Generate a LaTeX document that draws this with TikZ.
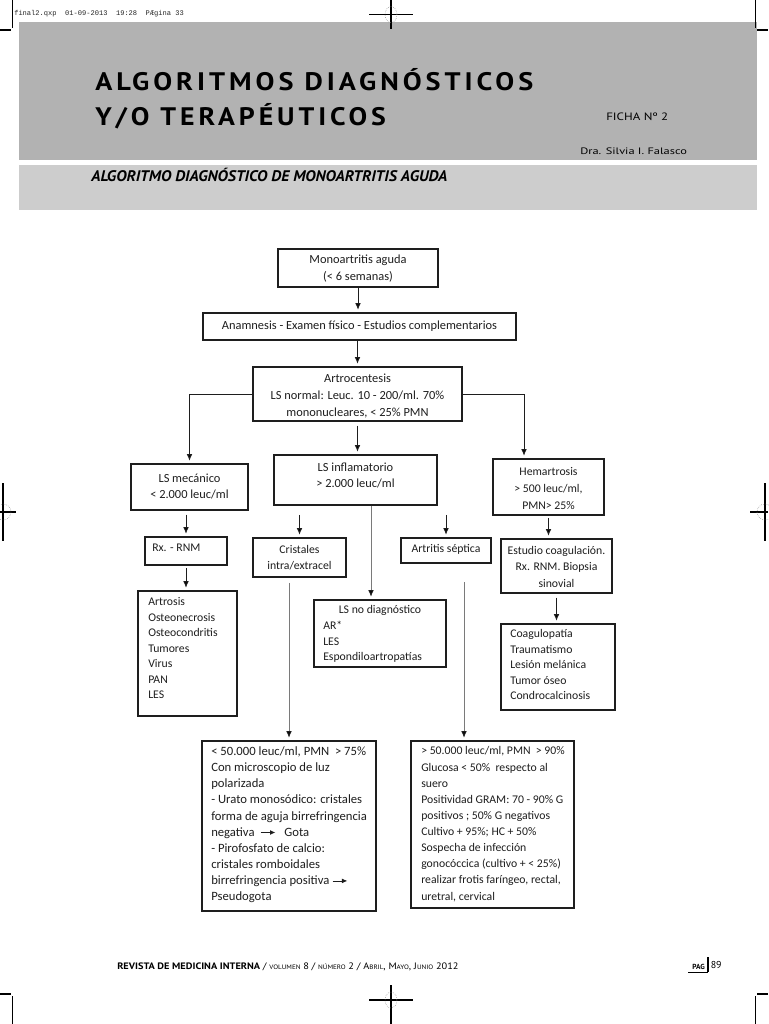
\documentclass[tikz,border=0pt]{standalone}
\usepackage{fontspec}
\usepackage{graphicx}
\setmainfont{Carlito}
\newfontfamily\ptsans{PT Sans}
\newfontfamily\ptsansls[LetterSpace=14]{PT Sans}
\newfontfamily\monof{Liberation Mono}
\usetikzlibrary{arrows.meta,fit}
\newcommand\fw[2]{\resizebox{#1}{\height}{#2}}
\newcommand\inarr{\tikz[baseline=-2.8pt]\draw[line width=0.6pt,-{Latex[length=4pt,width=3.6pt]}] (0,0)--(11pt,0);}
\definecolor{bandA}{HTML}{B2B2B2}
\definecolor{bandB}{HTML}{CDCDCD}
\definecolor{ink}{HTML}{1E1E1E}
\definecolor{glin}{HTML}{7A7A7A}
\begin{document}
\begin{tikzpicture}[x=0.75pt,y=-0.75pt,
  box/.style={draw=ink,line width=0.8pt,inner sep=0pt},
  txt/.style={font=\fontsize{9.3}{12.4}\selectfont,inner sep=0pt,align=center,text=ink},
  stxt/.style={font=\fontsize{8.8}{12.4}\selectfont,inner sep=0pt,align=center,text=ink},
  ltxt/.style={font=\fontsize{8.8}{11.6}\selectfont,inner sep=0pt,align=left,anchor=north west,text=ink},
  btxt/.style={font=\fontsize{9.5}{12.1}\selectfont,inner sep=0pt,align=left,anchor=north west,text=ink},
  bstxt/.style={font=\fontsize{8.8}{12.1}\selectfont,inner sep=0pt,align=left,anchor=north west,text=ink},
  arr/.style={draw=ink,line width=0.7pt,-{Latex[length=5pt,width=4.2pt]},shorten >=2pt},
  garr/.style={draw=glin,line width=0.7pt,-{Latex[length=5pt,width=4.2pt,color=ink]},shorten >=2pt},
  crop/.style={draw=black,line width=0.8pt},
  cring/.style={draw=gray,line width=0.4pt,densely dotted}
]
\useasboundingbox (0,0) rectangle (768,1024);
\fill[white] (0,0) rectangle (768,1024);

% header bands
\fill[bandA] (19,22) rectangle (757,160);
\fill[bandB] (19,165) rectangle (757,210);

% top line text
\node[anchor=base west,inner sep=0pt,font=\monof\fontsize{5.3}{6}\selectfont,text=black!85] (slug) at (14,15.5) {final2.qxp~~01-09-2013~~19:28~~PÆgina~33};

% crop marks
\draw[crop] (12.5,0) -- (12.5,28);
\draw[crop] (0,30) -- (11,30);
\draw[crop] (755.5,0) -- (755.5,28);
\draw[crop] (757,30) -- (768,30);
\draw[crop] (391,0) -- (391,29);
\draw[crop] (369,14.5) -- (413,14.5);
\draw[cring] (391,14.5) ellipse (6 and 8);
\draw[crop] (3,483) -- (3,541);
\draw[crop] (0,512) -- (16,512);
\draw[cring] (3,512) circle (8);
\draw[crop] (765,483) -- (765,541);
\draw[crop] (750,512) -- (768,512);
\draw[cring] (765,512) circle (8);
\draw[crop] (391,985) -- (391,1024);
\draw[crop] (369,1000) -- (413,1000);
\draw[cring] (391,1000) ellipse (6 and 8);
\draw[crop] (0,994) -- (11,994);
\draw[crop] (12.5,996) -- (12.5,1024);
\draw[crop] (757,994) -- (768,994);
\draw[crop] (755.5,996) -- (755.5,1024);

% titles
\node[anchor=base west,inner sep=0pt,font=\ptsansls\bfseries\fontsize{19}{21}\selectfont] (t1) at (95,90.5) {\fw{328.5pt}{ALGORITMOS DIAGNÓSTICOS}};
\node[anchor=base west,inner sep=0pt,font=\ptsansls\bfseries\fontsize{19}{21}\selectfont] (t2) at (95,125.5) {\fw{218pt}{Y/O TERAPÉUTICOS}};
\node[anchor=base west,inner sep=0pt,font=\ptsans\fontsize{8}{9}\selectfont] (ficha) at (606,120) {\fw{46.5pt}{FICHA Nº 2}};
\node[anchor=base west,inner sep=0pt,font=\ptsans\fontsize{7}{8}\selectfont] (dra) at (580,155) {\fw{80pt}{Dra. Silvia I. Falasco}};
\node[anchor=base west,inner sep=0pt,font=\ptsans\bfseries\itshape\fontsize{11.5}{13}\selectfont] (sub) at (91,181) {\fw{267pt}{ALGORITMO DIAGNÓSTICO DE MONOARTRITIS AGUDA}};

% boxes
\node[box,fit={(278,249)(438,287)}] (mono) {};
\node[txt] (mono-t) at (358,268.5) {Monoartritis aguda\\(< 6 semanas)};
\node[box,fit={(203,313)(516,340)}] (anam) {};
\node[txt] (anam-t) at (359.5,326.5) {Anamnesis - Examen físico - Estudios complementarios};
\node[box,fit={(253,367)(462,421)}] (arto) {};
\node[txt] (arto-t) at (357.5,396) {Artrocentesis\\LS normal: Leuc. 10 - 200/ml. 70\%\\mononucleares, < 25\% PMN};
\node[box,fit={(131,464)(248,510)}] (lsm) {};
\node[txt] (lsm-t) at (189.5,486.5) {LS mecánico\\< 2.000 leuc/ml};
\node[box,fit={(274,455)(437,505)}] (lsi) {};
\node[txt] (lsi-t) at (355.5,475.5) {LS inflamatorio\\> 2.000 leuc/ml};
\node[box,fit={(493,459)(604,515)}] (hem) {};
\node[stxt] (hem-t) at (548.5,488.5) {Hemartrosis\\> 500 leuc/ml,\\PMN> 25\%};
\node[box,fit={(145,537)(227,565)}] (rx) {};
\node[ltxt] (rx-t) at (152,543.5) {Rx. - RNM};
\node[box,fit={(138,591)(237,716)}] (artl) {};
\node[ltxt] (artl-t) at (148,597.5) {Artrosis\\Osteonecrosis\\Osteocondritis\\Tumores\\Virus\\PAN\\LES};
\node[box,fit={(253,538)(346,577)}] (cri) {};
\node[stxt] (cri-t) at (299.5,557.5) {Cristales\\intra/extracel};
\node[box,fit={(401,538)(491,563)}] (sep) {};
\node[stxt] (sep-t) at (446,549.5) {Artritis séptica};
\node[box,fit={(314,600)(446,667)}] (lsnd) {};
\node[stxt,anchor=north] (lsnd-t1) at (380,605.5) {LS no diagnóstico};
\node[ltxt] (lsnd-t) at (323,621) {AR*\\LES\\Espondiloartropatías};
\node[box,fit={(501,539)(612,593)}] (est) {};
\node[stxt] (est-t) at (556.5,566.5) {Estudio coagulación.\\Rx. RNM. Biopsia\\sinovial};
\node[box,fit={(501,624)(615,710)}] (coag) {};
\node[ltxt] (coag-t) at (510,629.5) {Coagulopatía\\Traumatismo\\Lesión melánica\\Tumor óseo\\Condrocalcinosis};
\node[box,fit={(202,741)(376,911)}] (bl) {};
\node[btxt] (bl-t) at (211,746.5) {< 50.000 leuc/ml, PMN ~> 75\%\\Con microscopio de luz\\polarizada\\- Urato monosódico: cristales\\forma de aguja birrefringencia\\negativa \ \inarr\ \ \ Gota\\- Pirofosfato de calcio:\\cristales romboidales\\birrefringencia positiva \inarr\\Pseudogota};
\node[box,fit={(411,741)(574,908)}] (br) {};
\node[bstxt] (br-t) at (421,746.5) {> 50.000 leuc/ml, PMN ~> 90\%\\Glucosa < 50\% ~respecto al\\suero\\Positividad GRAM: 70 - 90\% G\\positivos ; 50\% G negativos\\Cultivo + 95\%; HC + 50\%\\Sospecha de infección\\gonocóccica (cultivo + < 25\%)\\realizar frotis faríngeo, rectal,\\uretral, cervical};

% connectors
\coordinate (hemx) at (524,0);
\coordinate (midx) at (371,0);
\coordinate (sepx) at (464,0);
\draw[arr] (mono.south) -- (mono.south |- anam.north);
\draw[arr,shorten <=2pt] (anam.south) -- (anam.south -| arto.north) -- (arto.north);
\draw[arr] (arto.west) -| (lsm.north);
\draw[arr] (arto.east) -| (hem.north -| hemx);
\draw[arr,shorten <=3pt] (arto.south) -- (arto.south |- lsi.north);
\draw[arr,shorten <=3pt] (lsm.south -| rx.north) -- (rx.north);
\draw[arr,shorten <=2pt] (rx.south) -- (rx.south |- artl.north);
\draw[arr,shorten <=7pt] (lsi.south -| cri.north) -- (cri.north);
\draw[arr,shorten <=7pt] (lsi.south -| sep.north) -- (sep.north);
\draw[garr] (lsi.south -| midx) -- (lsnd.north -| midx);
\draw[garr,shorten <=4pt] (cri.south -| bl.north) -- (bl.north);
\draw[garr,shorten <=14pt] (sep.south -| sepx) -- (br.north -| sepx);
\draw[arr,shorten <=2pt] (hem.south) -- (hem.south |- est.north);
\draw[arr,shorten <=3pt] (est.south) -- (est.south |- coag.north);

% footer
\node[anchor=base west,inner sep=0pt,font=\ptsans\fontsize{7}{8}\selectfont] (foot) at (117,969) {\fw{256pt}{\textbf{REVISTA DE MEDICINA INTERNA} / {\fontsize{4.8}{5}\selectfont VOLUMEN} 8 / {\fontsize{4.8}{5}\selectfont NÚMERO} 2 / A{\fontsize{4.8}{5}\selectfont BRIL}, M{\fontsize{4.8}{5}\selectfont AYO}, J{\fontsize{4.8}{5}\selectfont UNIO} 2012}};
\node[anchor=base east,inner sep=0pt,font=\ptsans\bfseries\fontsize{5.5}{6}\selectfont] (pag) at (705,969) {PAG};
\node[anchor=base west,inner sep=0pt,font=\ptsans\fontsize{7.5}{8}\selectfont] (pnum) at (710.5,968) {89};
\draw[line width=0.6pt] (688,972) -- (708,972);
\draw[line width=1.1pt] (708,957) -- (708,972.4);
\end{tikzpicture}
\end{document}
